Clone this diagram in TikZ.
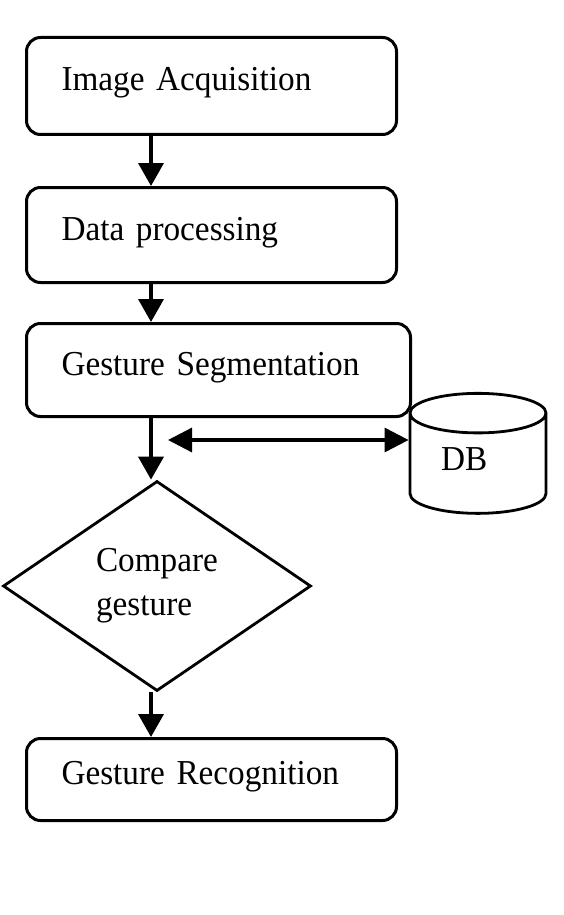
\documentclass[tikz,border=0pt]{standalone}
\usepackage{fontspec}
\setmainfont{Liberation Serif}[FakeStretch=0.95,WordSpace=0.75]
\usetikzlibrary{shapes.geometric,arrows.meta}

\begin{document}
\begin{tikzpicture}[x=1pt,y=-1pt]
    \useasboundingbox (0,0) rectangle (563,915);
    \tikzset{StepStyle/.style = {%
        draw,
        rounded corners = 14pt,
        line width = 3pt,
        anchor = north west,
        align = left,
        inner xsep = 35pt,
        text height = 24pt,
        text depth = 14pt,
        font = \fontsize{35}{44}\selectfont},
      FlowStyle/.style = {line width = 3.8pt,
        -{Triangle[length=23pt,width=25pt]}},
      LinkStyle/.style = {line width = 3.2pt,
        {Triangle[length=24pt,width=24pt]}-{Triangle[length=24pt,width=24pt]}}}
    \coordinate (axis) at (151,0);
    \node[StepStyle,text width=300pt,minimum height=97pt] (acq) at (25,36) {Image Acquisition};
    \node[StepStyle,text width=300pt,minimum height=95pt] (proc) at (25,186) {Data processing};
    \node[StepStyle,text width=314pt,minimum height=93pt] (seg) at (25,322) {Gesture Segmentation};
    \node[draw,diamond,line width=2.8pt,minimum width=308pt,minimum height=210pt,
        align=left,font=\fontsize{35}{44}\selectfont] (cmp) at (157,586) {Compare\\gesture};
    \node[StepStyle,text width=300pt,minimum height=82pt] (rec) at (25,737) {Gesture Recognition};
    \node[draw,cylinder,shape border rotate=90,aspect=0.49,line width=2.8pt,
        minimum width=136pt,minimum height=120pt,text width=74pt,align=left,
        text height=23pt,text depth=17pt,
        font=\fontsize{35}{44}\selectfont] (db) at (478,467) {DB};
    \coordinate (dbend) at (168,440);
    \draw[FlowStyle] (acq.south -| axis) -- (proc.north -| axis);
    \draw[FlowStyle] (proc.south -| axis) -- (seg.north -| axis);
    \draw[FlowStyle] (seg.south -| axis) -- (cmp.north -| axis);
    \draw[FlowStyle] (cmp.south -| axis) -- (rec.north -| axis);
    \draw[LinkStyle] (dbend) -- (dbend -| db.west);
 \end{tikzpicture}
\end{document}
